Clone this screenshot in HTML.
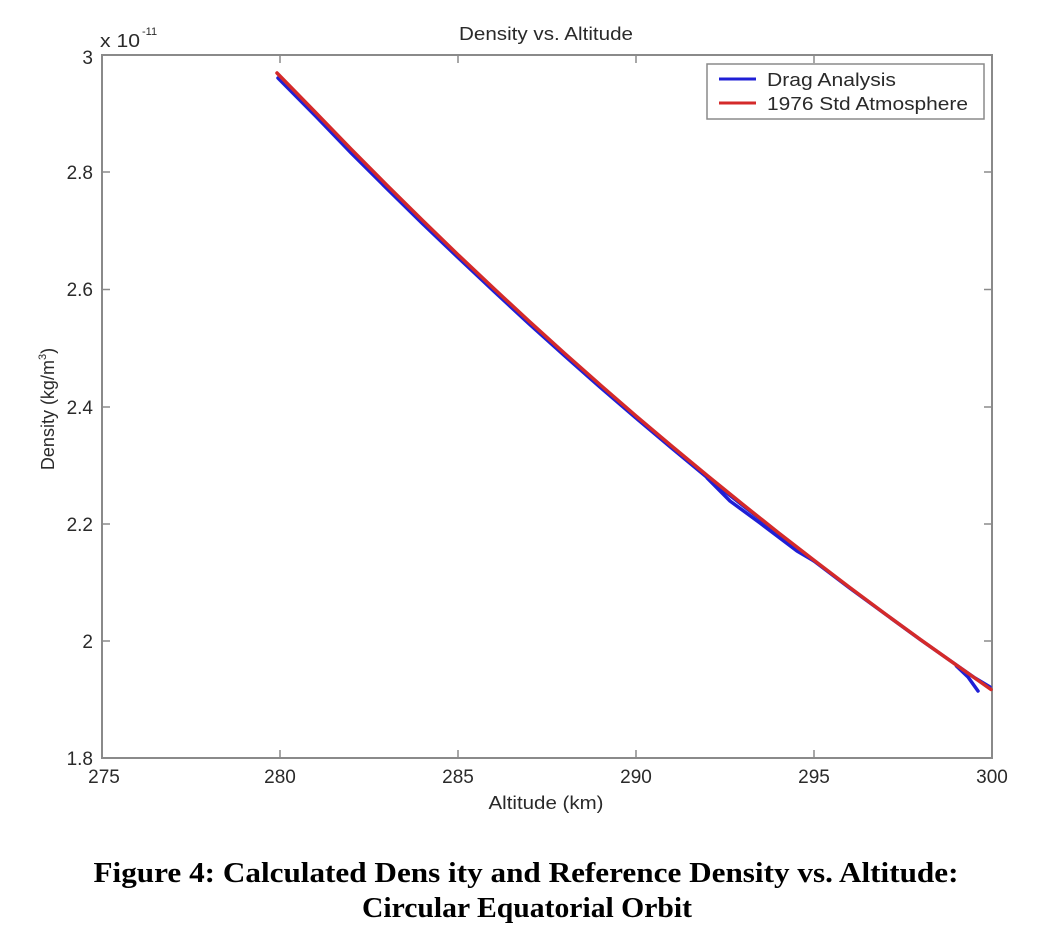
<!DOCTYPE html>
<html>
<head>
<meta charset="utf-8">
<style>
  html, body { margin: 0; padding: 0; background: #fff; }
  svg { display: block; }
  .ax { font-family: "Liberation Sans", Arial, sans-serif; fill: #2a2a2a; }
  .cap { font-family: "Liberation Serif", "Times New Roman", serif; font-weight: bold; fill: #000; }
</style>
</head>
<body>
<svg width="1044" height="938" viewBox="0 0 1044 938" xmlns="http://www.w3.org/2000/svg">
  <rect x="0" y="0" width="1044" height="938" fill="#fff"/>

  <!-- Title -->
  <text class="ax" x="546" y="40" font-size="18" text-anchor="middle" textLength="174" lengthAdjust="spacingAndGlyphs">Density vs. Altitude</text>

  <!-- exponent -->
  <text class="ax" x="100" y="47" font-size="18" textLength="40" lengthAdjust="spacingAndGlyphs">x 10</text>
  <text class="ax" x="142" y="35" font-size="11">-11</text>

  <!-- plot box -->
  <rect x="102" y="55" width="890" height="703" fill="none" stroke="#8a8a8a" stroke-width="2"/>

  <!-- ticks -->
  <g stroke="#8a8a8a" stroke-width="1.5">
    <line x1="280" y1="758" x2="280" y2="750"/><line x1="280" y1="55" x2="280" y2="63"/>
    <line x1="458" y1="758" x2="458" y2="750"/><line x1="458" y1="55" x2="458" y2="63"/>
    <line x1="636" y1="758" x2="636" y2="750"/><line x1="636" y1="55" x2="636" y2="63"/>
    <line x1="814" y1="758" x2="814" y2="750"/><line x1="814" y1="55" x2="814" y2="63"/>
    <line x1="102" y1="172" x2="110" y2="172"/><line x1="992" y1="172" x2="984" y2="172"/>
    <line x1="102" y1="289.5" x2="110" y2="289.5"/><line x1="992" y1="289.5" x2="984" y2="289.5"/>
    <line x1="102" y1="407" x2="110" y2="407"/><line x1="992" y1="407" x2="984" y2="407"/>
    <line x1="102" y1="524" x2="110" y2="524"/><line x1="992" y1="524" x2="984" y2="524"/>
    <line x1="102" y1="641" x2="110" y2="641"/><line x1="992" y1="641" x2="984" y2="641"/>
  </g>

  <!-- y tick labels -->
  <g class="ax" font-size="19" text-anchor="end">
    <text x="93" y="64">3</text>
    <text x="93" y="179">2.8</text>
    <text x="93" y="296">2.6</text>
    <text x="93" y="414">2.4</text>
    <text x="93" y="531">2.2</text>
    <text x="93" y="648">2</text>
    <text x="93" y="765">1.8</text>
  </g>

  <!-- x tick labels -->
  <g class="ax" font-size="19" text-anchor="middle">
    <text x="104" y="783">275</text>
    <text x="280" y="783">280</text>
    <text x="458" y="783">285</text>
    <text x="636" y="783">290</text>
    <text x="814" y="783">295</text>
    <text x="992" y="783">300</text>
  </g>

  <!-- x label -->
  <text class="ax" x="546" y="809" font-size="18" text-anchor="middle" textLength="115" lengthAdjust="spacingAndGlyphs">Altitude (km)</text>

  <!-- y label -->
  <text class="ax" font-size="18" text-anchor="middle" transform="translate(54,409) rotate(-90)">Density (kg/m<tspan font-size="11" dy="-8">3</tspan><tspan dy="8">)</tspan></text>

  <!-- Blue series (Drag Analysis) -->
  <g fill="none" stroke="#1f1fd6" stroke-width="3.5" stroke-linejoin="round" stroke-linecap="round">
    <polyline points="278,78 315.6,116 351.2,153 386.8,188.5 422.4,223.5 458,257.5 493.6,291 529.2,324 564.8,356 600.4,387.5 636,418 671.6,448 707.2,477.5 742.8,505.5 778.4,533 814,561 849.6,588 885.2,614 920.8,640 956.4,665 975,678 990,687"/>
    <polyline points="707.2,478 730,501 760,523 797,551 814,561"/>
    <polyline points="956.4,666 968,677 978,691"/>
  </g>

  <!-- Red series (1976 Std Atmosphere) -->
  <polyline fill="none" stroke="#d42a2a" stroke-width="3.5" stroke-linejoin="round" stroke-linecap="round"
    points="277,73 315.6,112.5 351.2,149.2 386.8,185.1 422.4,220.3 458,254.7 493.6,288.3 529.2,321.3 564.8,353.5 600.4,385 636,415.9 671.6,446 707.2,475.5 742.8,504.4 778.4,532.7 814,560.3 849.6,587.4 885.2,613.9 920.8,639.8 956.4,665.1 991,689.5"/>

  <!-- Legend -->
  <rect x="707" y="64" width="277" height="55" fill="#fff" stroke="#8a8a8a" stroke-width="1.5"/>
  <line x1="719" y1="79" x2="756" y2="79" stroke="#1f1fd6" stroke-width="3"/>
  <line x1="719" y1="103" x2="756" y2="103" stroke="#d42a2a" stroke-width="3"/>
  <text class="ax" x="767" y="86" font-size="18" textLength="129" lengthAdjust="spacingAndGlyphs">Drag Analysis</text>
  <text class="ax" x="767" y="110" font-size="18" textLength="201" lengthAdjust="spacingAndGlyphs">1976 Std Atmosphere</text>

  <!-- Caption -->
  <text class="cap" x="526" y="882" font-size="28" text-anchor="middle" textLength="865" lengthAdjust="spacingAndGlyphs">Figure 4: Calculated Dens ity and Reference Density vs. Altitude:</text>
  <text class="cap" x="527" y="917" font-size="28" text-anchor="middle" textLength="330" lengthAdjust="spacingAndGlyphs">Circular Equatorial Orbit</text>
</svg>
</body>
</html>
